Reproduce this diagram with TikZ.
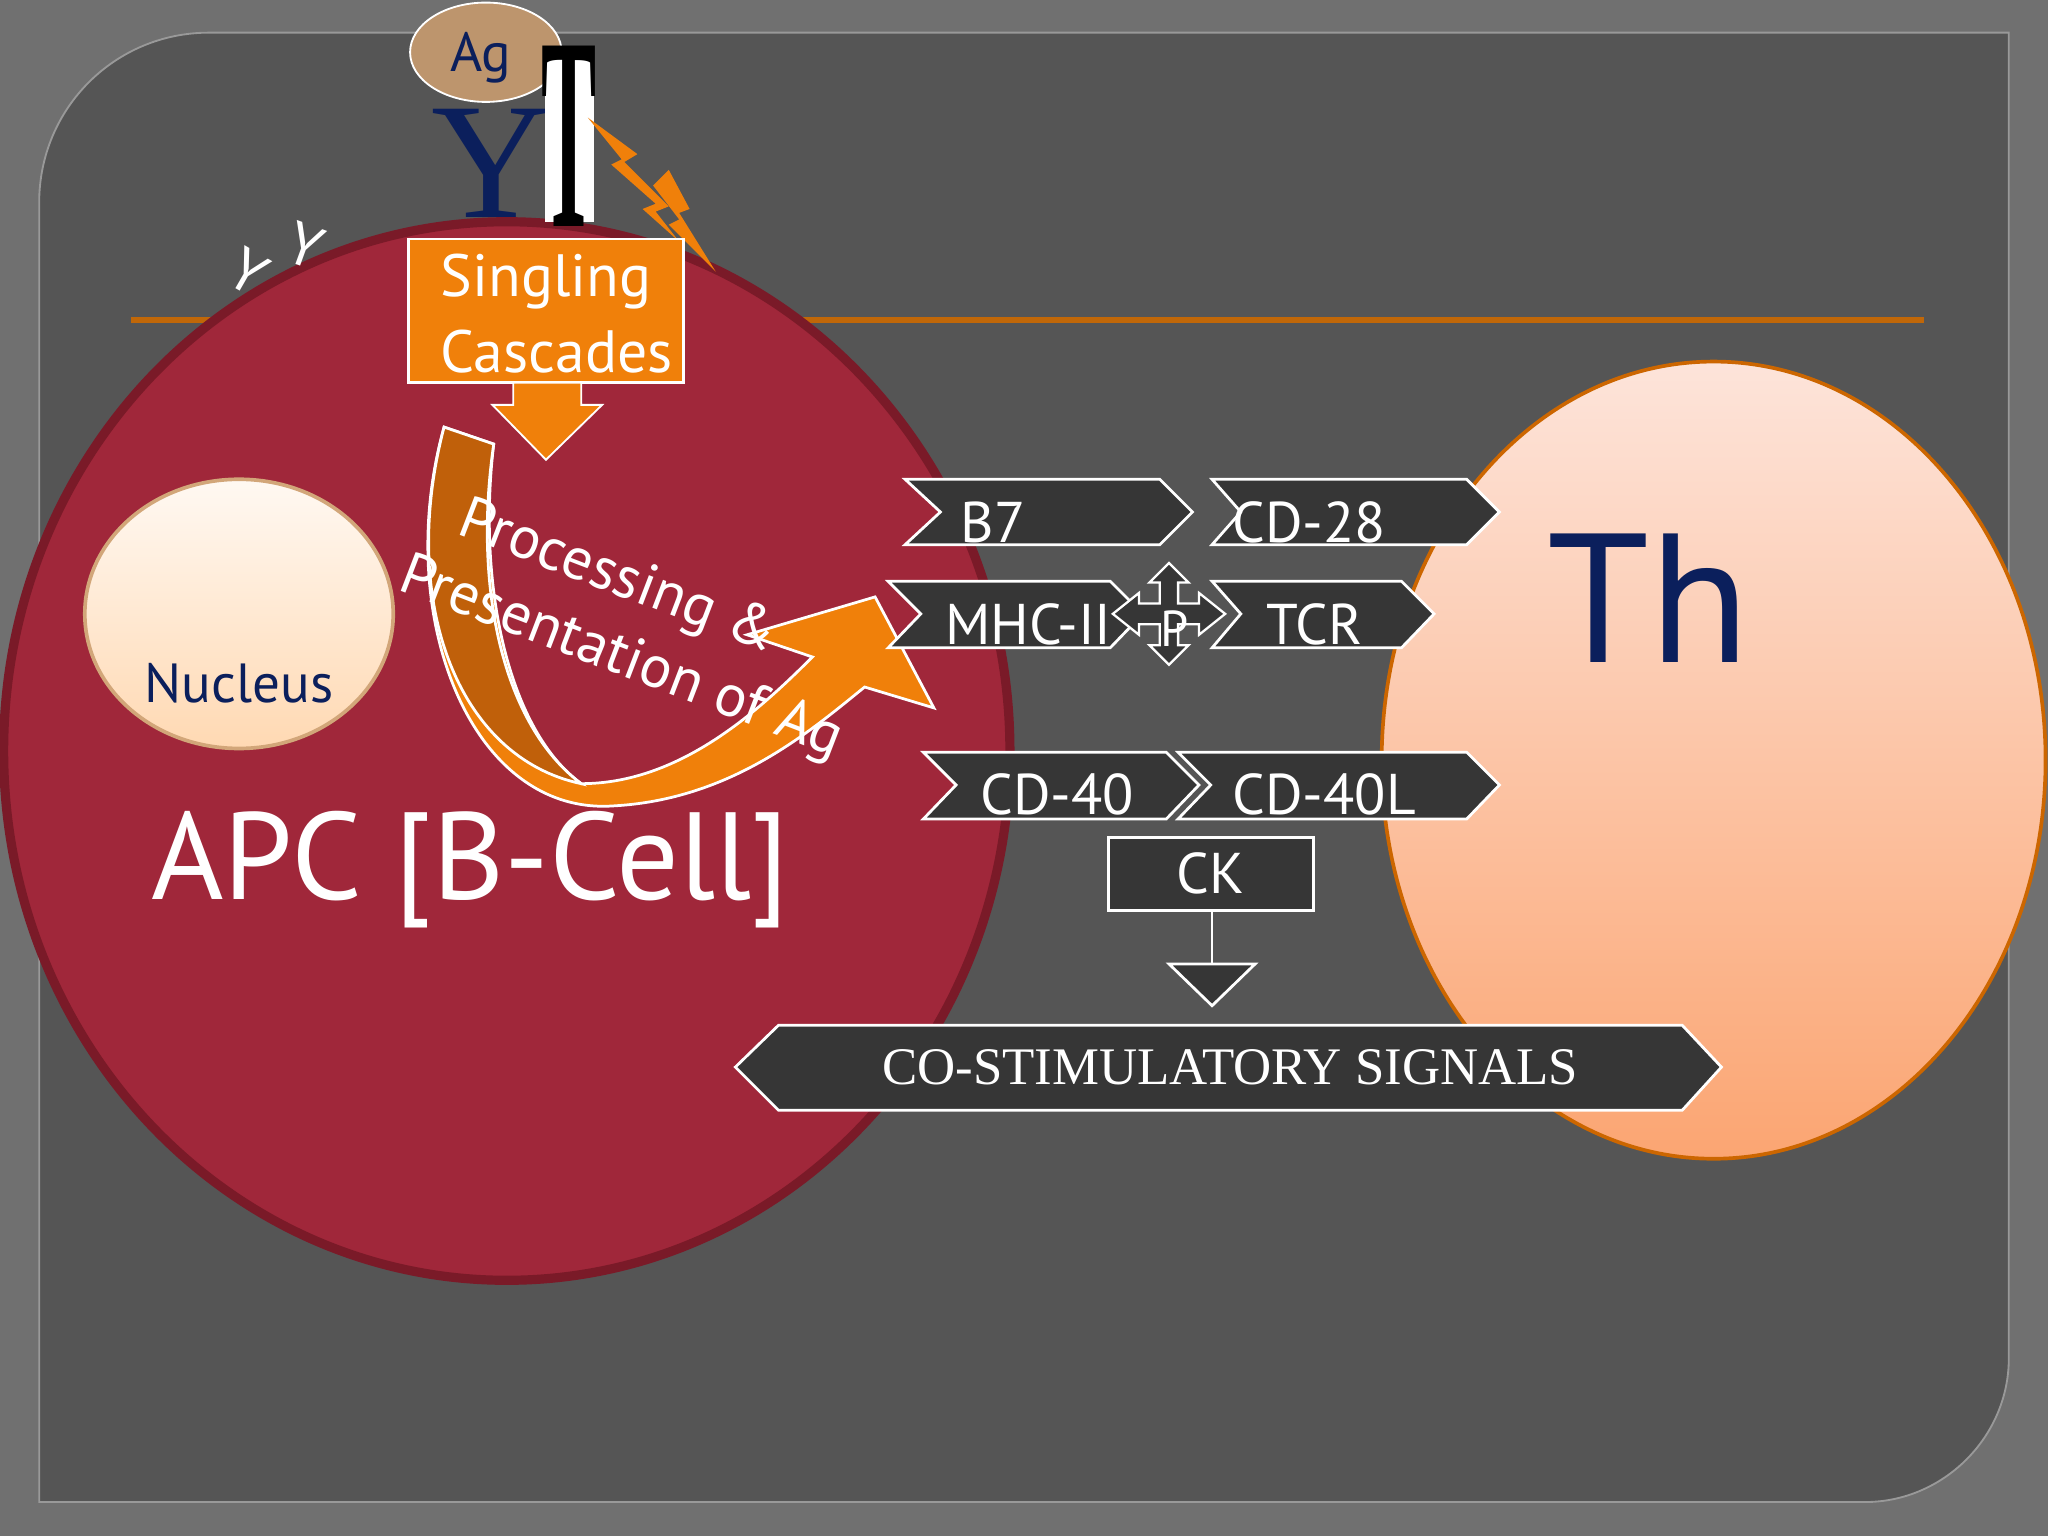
\documentclass[tikz,border=0pt]{standalone}
\usepackage{fontspec}
\setmainfont{PT Sans}
\newfontfamily\serifx{Liberation Serif}
\usetikzlibrary{shapes.geometric}
\definecolor{bgout}{HTML}{707070}
\definecolor{bgin}{HTML}{555555}
\definecolor{apc}{HTML}{A0273A}
\definecolor{apcb}{HTML}{7A1A28}
\definecolor{navy}{HTML}{0B1F5C}
\definecolor{org}{HTML}{F0800A}
\definecolor{dorg}{HTML}{C0600A}
\definecolor{pill}{HTML}{363636}
\definecolor{thtop}{HTML}{FDE4DA}
\definecolor{thbot}{HTML}{FBA572}
\tikzset{
  pilltxt/.style={text=white,font=\fontsize{12.5}{15}\selectfont,anchor=west,inner sep=0},
  pillshape/.style={fill=pill,draw=white,line width=0.6pt},
}
\begin{document}
\begin{tikzpicture}[x=0.01cm,y=-0.01cm]
\useasboundingbox (0,0) rectangle (1568,1176);
\fill[bgout] (0,0) rectangle (1568,1176);
\fill[bgin,draw=gray!80] (30,155) .. controls (30,83) and (88,25) .. (160,25) -- (1538,25) -- (1538,1040) .. controls (1538,1100) and (1488,1150) .. (1428,1150) -- (30,1150) -- cycle;
\draw[org!80!black,line width=1.2pt] (100,245) -- (1473,245);
% cells
\node[ellipse,draw=apcb,line width=2pt,fill=apc,minimum width=7.7cm,minimum height=8.1cm] (apc) at (388,575) {};
\node[ellipse,draw=orange!80!black,line width=0.8pt,top color=thtop,bottom color=thbot,minimum width=5.08cm,minimum height=6.1cm] (th) at (1312,582) {};
\node[text=navy,font=\fontsize{40}{44}\selectfont] (thl) at (1262,458) {Th};
\node[ellipse,draw=brown!70,line width=0.8pt,top color=white!95!orange,bottom color=orange!30!white,minimum width=2.36cm,minimum height=2.06cm] (nuc) at (183,470) {};
\node[text=navy,font=\fontsize{12}{15}\selectfont] (nucl) at (183,523) {Nucleus};
\node[text=white,font=\fontsize{27}{32}\selectfont] (apcl) at (360,666) {APC [B-Cell]};
% Ag
\node[ellipse,draw=white!70,fill=brown!70!white!90!black,minimum width=1.16cm,minimum height=0.76cm] (ag) at (372,40) {};
\node[text=navy,font=\fontsize{12}{16}\selectfont] at (368,44) {Ag};
\node[text=navy,font=\serifx\fontsize{36}{40}\selectfont,inner sep=0] (ybig) at (376,125) {Y};
\node[fill=white,minimum width=0.37cm,minimum height=1.3cm,inner sep=0] (tbox) at (436,105) {};
\node[font=\serifx\bfseries\fontsize{20}{22}\selectfont,inner sep=0,yscale=3,xscale=0.9] at (436,104) {T};
\node[text=white,rotate=-30,font=\fontsize{13}{16}\selectfont] (y1) at (190,208) {Y};
\node[text=white,rotate=-20,font=\fontsize{13}{16}\selectfont] (y2) at (234,188) {Y};
% lightning
\fill[org] (450,90) -- (488,118) -- (478,124) -- (512,158) -- (502,162) -- (520,185) -- (492,160) -- (502,156) -- (468,126) -- (476,122) -- cycle;
\fill[org] (512,130) -- (528,160) -- (520,163) -- (548,208) -- (512,172) -- (520,168) -- (500,142) -- cycle;
% singling cascades
\node[fill=org,draw=white,line width=0.6pt,minimum width=2.1cm,minimum height=1.1cm,inner sep=0] (sc) at (418,238) {};
\node[text=white,font=\fontsize{13}{16.5}\selectfont,align=left,anchor=west] at (325,240) {Singling\\Cascades};
\fill[org,draw=white,line width=0.4pt] (393,293) -- (445,293) -- (445,310) -- (461,310) -- (418,352) -- (377,310) -- (393,310) -- cycle;
% curved arrow
\fill[org,draw=white,line width=0.6pt] (340,327) .. controls (300,470) and (360,625) .. (470,617) .. controls (560,612) and (620,560) .. (662,526) -- (715,542) -- (670,457) -- (572,486) -- (622,503) .. controls (580,545) and (520,600) .. (445,600) .. controls (390,560) and (365,450) .. (378,340) -- cycle;
\fill[dorg,draw=white,line width=0.6pt] (340,327) .. controls (305,460) and (350,580) .. (445,600) .. controls (385,555) and (362,450) .. (378,340) -- cycle;
\node[text=white,rotate=-21,font=\fontsize{13}{16}\selectfont,align=left,anchor=north west] (proc) at (328,352) {\hspace*{0.6em}Processing \&\\Presentation of Ag};
% pills
\path[pillshape] (693,367) -- (888,367) -- (913,392) -- (888,417) -- (693,417) -- (720,392) -- cycle;
\node[pilltxt] (b7) at (735,400) {B7};
\path[pillshape] (928,367) -- (1123,367) -- (1148,392) -- (1123,417) -- (928,417) -- (950,392) -- cycle;
\node[pilltxt] (cd28) at (943,400) {CD-28};
\path[pillshape] (680,445) -- (850,445) -- (875,470) -- (850,496) -- (680,496) -- (705,470) -- cycle;
\node[pilltxt] (mhc) at (723,478) {MHC-II};
\path[pillshape] (928,445) -- (1073,445) -- (1098,470) -- (1073,496) -- (928,496) -- (950,470) -- cycle;
\node[pilltxt] (tcr) at (969,478) {TCR};
\path[pillshape] (707,576) -- (893,576) -- (918,601) -- (893,627) -- (707,627) -- (732,601) -- cycle;
\node[pilltxt] (cd40) at (750,608) {CD-40};
\path[pillshape] (902,576) -- (1123,576) -- (1148,601) -- (1123,627) -- (902,627) -- (927,601) -- cycle;
\node[pilltxt] (cd40l) at (943,608) {CD-40L};
% P quad arrow
\path[pillshape,line width=0.5pt] (895,431) -- (910,446) -- (902,446) -- (902,462) -- (918,462) -- (918,454) -- (938,470) -- (918,486) -- (918,478) -- (902,478) -- (902,494) -- (910,494) -- (895,509) -- (880,494) -- (888,494) -- (888,478) -- (872,478) -- (872,486) -- (852,470) -- (872,454) -- (872,462) -- (888,462) -- (888,446) -- (880,446) -- cycle;
\node[text=white,font=\fontsize{11}{13}\selectfont] (p) at (899,481) {P};
% CK
\node[pillshape,minimum width=1.57cm,minimum height=0.56cm,text=white,font=\fontsize{12.5}{15}\selectfont] (ck) at (927,669) {CK};
\coordinate (tri) at (928,738);
\draw[white,line width=0.6pt] (ck.south -| tri) -- (tri);
\path[pillshape] (895,738) -- (961,738) -- (928,770) -- cycle;
% banner
\path[pillshape] (563,817) -- (596,785) -- (1288,785) -- (1318,817) -- (1288,850) -- (596,850) -- cycle;
\node[text=white,font=\serifx\fontsize{11.5}{14}\selectfont] (cos) at (942,817) {CO-STIMULATORY SIGNALS};
\end{tikzpicture}
\end{document}
